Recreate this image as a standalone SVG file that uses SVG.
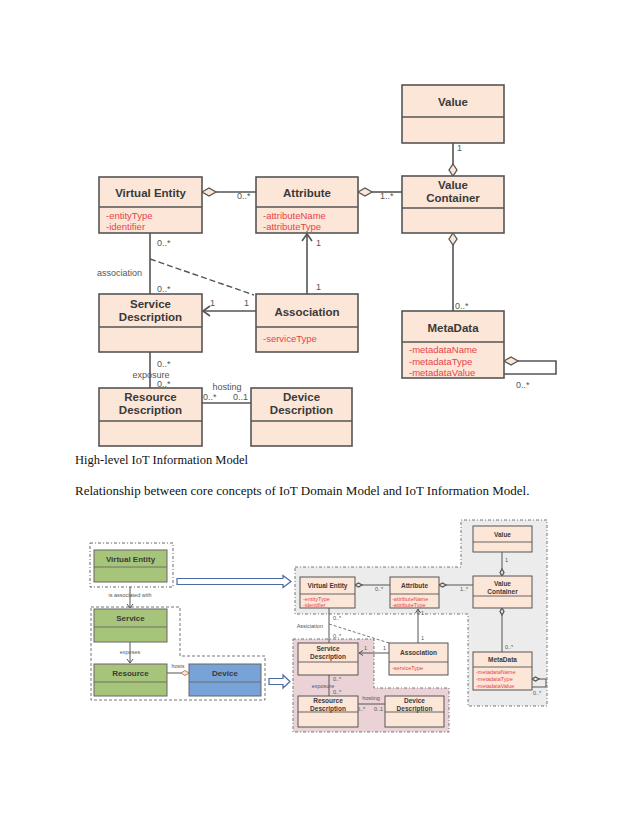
<svg xmlns="http://www.w3.org/2000/svg" width="638" height="826" viewBox="0 0 638 826">
<style>
.bx{fill:#fce6d8;stroke:#555;stroke-width:1.6}
.dv{stroke:#555;stroke-width:1.4}
.t{font-family:"Liberation Sans",Arial,sans-serif;font-weight:bold;fill:#3a3a3a;text-anchor:middle}
.t1{font-size:11.5px}
.a1{font-family:"Liberation Sans",Arial,sans-serif;font-size:9.5px;fill:#e8434b}
.l1{font-family:"Liberation Sans",Arial,sans-serif;font-size:9px;fill:#555}
.c{stroke:#555;stroke-width:1.6;fill:none}
.dm{fill:#fce6d8;stroke:#555;stroke-width:1.3}
.bx2{fill:#fce6d8;stroke:#555;stroke-width:1}
.dv2{stroke:#555;stroke-width:0.9}
.t2{font-size:6.5px}
.a2{font-family:"Liberation Sans",Arial,sans-serif;font-size:5.5px;fill:#e8434b}
.l2{font-family:"Liberation Sans",Arial,sans-serif;font-size:5.5px;fill:#555}
.c2{stroke:#555;stroke-width:1;fill:none}
.cap{font-family:"Liberation Serif","Times New Roman",serif;font-size:13px;fill:#111}
.g{fill:#a7c57a;stroke:#666;stroke-width:1}
.bl{fill:#78a3d8;stroke:#666;stroke-width:1}
.ha{fill:#fff;stroke:#4a6aa5;stroke-width:1.2}
</style>

<!-- ===== Top diagram ===== -->
<g id="connectors-top">
  <line class="c" x1="216" y1="192" x2="256" y2="192"/>
  <path class="dm" d="M202,192 L209,188 L216,192 L209,196 Z"/>
  <text class="l1" x="237" y="199">0..*</text>
  <line class="c" x1="372" y1="192" x2="402" y2="192"/>
  <path class="dm" d="M358,192 L365,188 L372,192 L365,196 Z"/>
  <text class="l1" x="380" y="199">1..*</text>
  <line class="c" x1="453" y1="143" x2="453" y2="164"/>
  <path class="dm" d="M453,164 L457,170 L453,176 L449,170 Z"/>
  <text class="l1" x="457" y="151">1</text>
  <path class="dm" d="M453,233 L457,239 L453,245 L449,239 Z"/>
  <line class="c" x1="453" y1="245" x2="453" y2="311"/>
  <text class="l1" x="455" y="309">0..*</text>
  <path class="dm" d="M504,361 L511,357 L518,361 L511,365 Z"/>
  <polyline class="c" points="518,361 556,361 556,374 504,374"/>
  <text class="l1" x="516" y="388">0..*</text>
  <line class="c" x1="150" y1="233" x2="150" y2="294"/>
  <text class="l1" x="157" y="246">0..*</text>
  <text class="l1" x="157" y="292">0..*</text>
  <text class="l1" x="97" y="276">association</text>
  <line x1="150" y1="259" x2="254" y2="295" stroke="#555" stroke-width="1.4" stroke-dasharray="6,3"/>
  <line class="c" x1="307" y1="294" x2="307" y2="234"/>
  <polyline class="c" points="302,241 307,234 312,241"/>
  <text class="l1" x="316" y="246">1</text>
  <text class="l1" x="316" y="290">1</text>
  <line class="c" x1="256" y1="311" x2="203" y2="311"/>
  <polyline class="c" points="210,306 203,311 210,316"/>
  <text class="l1" x="210" y="306">1</text>
  <text class="l1" x="244" y="306">1</text>
  <line class="c" x1="150" y1="352" x2="150" y2="388"/>
  <text class="l1" x="157" y="367">0..*</text>
  <text class="l1" x="151" y="378" text-anchor="middle">exposure</text>
  <text class="l1" x="157" y="387">0..*</text>
  <line class="c" x1="202" y1="403" x2="251" y2="403"/>
  <text class="l1" x="227" y="390" text-anchor="middle">hosting</text>
  <text class="l1" x="203" y="400">0..*</text>
  <text class="l1" x="233" y="400">0..1</text>
</g>

<g id="value">
  <rect class="bx" x="402" y="85" width="102" height="58"/>
  <line class="dv" x1="402" y1="117" x2="504" y2="117"/>
  <text class="t t1" x="453" y="106">Value</text>
</g>
<g id="virtual-entity">
  <rect class="bx" x="99" y="177" width="103" height="56"/>
  <line class="dv" x1="99" y1="207" x2="202" y2="207"/>
  <text class="t t1" x="150.5" y="197">Virtual Entity</text>
  <text class="a1" x="106" y="219">-entityType</text>
  <text class="a1" x="106" y="230">-identifier</text>
</g>
<g id="attribute">
  <rect class="bx" x="256" y="177" width="102" height="56"/>
  <line class="dv" x1="256" y1="207" x2="358" y2="207"/>
  <text class="t t1" x="307" y="197">Attribute</text>
  <text class="a1" x="263" y="219">-attributeName</text>
  <text class="a1" x="263" y="230">-attributeType</text>
</g>
<g id="value-container">
  <rect class="bx" x="402" y="176" width="102" height="57"/>
  <line class="dv" x1="402" y1="208" x2="504" y2="208"/>
  <text class="t t1" x="453" y="189">Value</text>
  <text class="t t1" x="453" y="202">Container</text>
</g>
<g id="service-description">
  <rect class="bx" x="99" y="294" width="103" height="58"/>
  <line class="dv" x1="99" y1="327" x2="202" y2="327"/>
  <text class="t t1" x="150.5" y="308">Service</text>
  <text class="t t1" x="150.5" y="321">Description</text>
</g>
<g id="association">
  <rect class="bx" x="256" y="294" width="102" height="58"/>
  <line class="dv" x1="256" y1="327" x2="358" y2="327"/>
  <text class="t t1" x="307" y="316">Association</text>
  <text class="a1" x="263" y="342">-serviceType</text>
</g>
<g id="metadata">
  <rect class="bx" x="402" y="311" width="102" height="67"/>
  <line class="dv" x1="402" y1="342" x2="504" y2="342"/>
  <text class="t t1" x="453" y="332">MetaData</text>
  <text class="a1" x="409" y="353">-metadataName</text>
  <text class="a1" x="409" y="365">-metadataType</text>
  <text class="a1" x="409" y="376">-metadataValue</text>
</g>
<g id="resource-description">
  <rect class="bx" x="99" y="388" width="103" height="58"/>
  <line class="dv" x1="99" y1="421" x2="202" y2="421"/>
  <text class="t t1" x="150.5" y="401">Resource</text>
  <text class="t t1" x="150.5" y="414">Description</text>
</g>
<g id="device-description">
  <rect class="bx" x="251" y="388" width="101" height="58"/>
  <line class="dv" x1="251" y1="421" x2="352" y2="421"/>
  <text class="t t1" x="301.5" y="401">Device</text>
  <text class="t t1" x="301.5" y="414">Description</text>
</g>

<text class="cap" x="75" y="464" textLength="173" lengthAdjust="spacingAndGlyphs">High-level IoT Information Model</text>
<text class="cap" x="75" y="495">Relationship between core concepts of IoT Domain Model and IoT Information Model.</text>

<!-- ===== Bottom diagram ===== -->
<g id="regions">
  <path d="M295,567 L461,567 L461,520 L547,520 L547,706 L468,706 L468,614 L295,614 Z" fill="#ececec" stroke="#777" stroke-width="1" stroke-dasharray="3,2,1,2"/>
  <path d="M293,639 L374,639 L374,688 L449,688 L449,732 L293,732 Z" fill="#ead2d6" stroke="#777" stroke-width="1" stroke-dasharray="3,2,1,2"/>
  <rect x="90" y="543" width="83" height="44" fill="none" stroke="#666" stroke-width="1" stroke-dasharray="3,2,1,2"/>
  <path d="M91,607 L180,607 L180,656 L265,656 L265,700 L91,700 Z" fill="none" stroke="#777" stroke-width="1" stroke-dasharray="3,2"/>
</g>

<g id="connectors-bottom">
  <line class="c2" x1="130" y1="587" x2="130" y2="608"/>
  <polyline class="c2" points="127,604 130,608 133,604"/>
  <text class="l2" x="130" y="597" text-anchor="middle">is associated with</text>
  <line class="c2" x1="130" y1="642" x2="130" y2="663"/>
  <polyline class="c2" points="127,659 130,663 133,659"/>
  <text class="l2" x="130" y="654" text-anchor="middle">exposes</text>
  <line class="c2" x1="167" y1="673" x2="181" y2="673"/>
  <path d="M181,673 L185,670.5 L189,673 L185,675.5 Z" fill="#fce6d8" stroke="#c07040" stroke-width="0.9"/>
  <text class="l2" x="178" y="668" text-anchor="middle">hosts</text>
  <path class="ha" d="M177,578.5 L283,578.5 L283,575.5 L291,581.5 L283,587.5 L283,584.5 L177,584.5 Z"/>
  <path class="ha" d="M269,678.5 L283,678.5 L283,675 L290,681.5 L283,688 L283,684.5 L269,684.5 Z"/>
  <line class="c2" x1="362" y1="585" x2="390" y2="585"/>
  <path class="dm" d="M355,585 L358.5,583 L362,585 L358.5,587 Z" stroke-width="0.9"/>
  <text class="l2" x="375" y="591">0..*</text>
  <line class="c2" x1="446" y1="585" x2="473" y2="585"/>
  <path class="dm" d="M439,585 L442.5,583 L446,585 L442.5,587 Z" stroke-width="0.9"/>
  <text class="l2" x="460" y="591">1..*</text>
  <line class="c2" x1="502" y1="552" x2="502" y2="569"/>
  <path class="dm" d="M502,569 L504,572.5 L502,576 L500,572.5 Z" stroke-width="0.9"/>
  <text class="l2" x="505" y="562">1</text>
  <path class="dm" d="M502,608 L504,611.5 L502,615 L500,611.5 Z" stroke-width="0.9"/>
  <line class="c2" x1="502" y1="615" x2="502" y2="652"/>
  <text class="l2" x="505" y="649">0..*</text>
  <path class="dm" d="M532,679 L535.5,677 L539,679 L535.5,681 Z" stroke-width="0.9"/>
  <polyline class="c2" points="539,679 546,679 546,687 532,687"/>
  <text class="l2" x="533" y="695">0..*</text>
  <line class="c2" x1="329" y1="608" x2="329" y2="643"/>
  <text class="l2" x="333" y="620">0..*</text>
  <text class="l2" x="323" y="628" text-anchor="end">Assiciation</text>
  <text class="l2" x="333" y="638">0..*</text>
  <line x1="329" y1="624" x2="389" y2="643" stroke="#666" stroke-width="0.9" stroke-dasharray="3,2"/>
  <line class="c2" x1="418" y1="643" x2="418" y2="609"/>
  <polyline class="c2" points="415.5,613 418,609 420.5,613"/>
  <text class="l2" x="421" y="615">1</text>
  <text class="l2" x="421" y="640">1</text>
  <line class="c2" x1="389" y1="653" x2="359" y2="653"/>
  <polyline class="c2" points="363,650.5 359,653 363,655.5"/>
  <text class="l2" x="364" y="650">1</text>
  <text class="l2" x="383" y="650">1</text>
  <line class="c2" x1="329" y1="675" x2="329" y2="696"/>
  <text class="l2" x="333" y="681">0..*</text>
  <text class="l2" x="323" y="688" text-anchor="middle">exposure</text>
  <text class="l2" x="333" y="694">0..*</text>
  <line class="c2" x1="358" y1="704" x2="385" y2="704"/>
  <text class="l2" x="371" y="700" text-anchor="middle">hosting</text>
  <text class="l2" x="357" y="711">0..*</text>
  <text class="l2" x="374" y="711">0..1</text>
</g>

<g id="b-virtual-entity-green">
  <rect class="g" x="94" y="550" width="73" height="32"/>
  <line stroke="#666" stroke-width="0.9" x1="94" y1="567" x2="167" y2="567"/>
  <text class="t" x="130.5" y="562" font-size="8">Virtual Entity</text>
</g>
<g id="b-service-green">
  <rect class="g" x="94" y="609" width="73" height="33"/>
  <line stroke="#666" stroke-width="0.9" x1="94" y1="627" x2="167" y2="627"/>
  <text class="t" x="130.5" y="621" font-size="8">Service</text>
</g>
<g id="b-resource-green">
  <rect class="g" x="94" y="664" width="73" height="32"/>
  <line stroke="#666" stroke-width="0.9" x1="94" y1="682" x2="167" y2="682"/>
  <text class="t" x="130.5" y="676" font-size="8">Resource</text>
</g>
<g id="b-device-blue">
  <rect class="bl" x="189" y="664" width="72" height="32"/>
  <line stroke="#666" stroke-width="0.9" x1="189" y1="682" x2="261" y2="682"/>
  <text class="t" x="225" y="676" font-size="8">Device</text>
</g>

<g id="b-value">
  <rect class="bx2" x="473" y="526" width="59" height="26"/>
  <line class="dv2" x1="473" y1="542" x2="532" y2="542"/>
  <text class="t t2" x="502.5" y="537">Value</text>
</g>
<g id="b-virtual-entity">
  <rect class="bx2" x="300" y="577" width="55" height="31"/>
  <line class="dv2" x1="300" y1="594" x2="355" y2="594"/>
  <text class="t t2" x="327.5" y="588">Virtual Entity</text>
  <text class="a2" x="303" y="600.5">-entityType</text>
  <text class="a2" x="303" y="606.5">-identifier</text>
</g>
<g id="b-attribute">
  <rect class="bx2" x="390" y="577" width="49" height="31"/>
  <line class="dv2" x1="390" y1="594" x2="439" y2="594"/>
  <text class="t t2" x="414.5" y="588">Attribute</text>
  <text class="a2" x="392" y="600.5">-attributeName</text>
  <text class="a2" x="392" y="606.5">-attributeType</text>
</g>
<g id="b-value-container">
  <rect class="bx2" x="473" y="576" width="59" height="32"/>
  <line class="dv2" x1="473" y1="596" x2="532" y2="596"/>
  <text class="t t2" x="502.5" y="586">Value</text>
  <text class="t t2" x="502.5" y="594">Container</text>
</g>
<g id="b-metadata">
  <rect class="bx2" x="473" y="652" width="59" height="38"/>
  <line class="dv2" x1="473" y1="667" x2="532" y2="667"/>
  <text class="t t2" x="502.5" y="662">MetaData</text>
  <text class="a2" x="476" y="673.5">-metadataName</text>
  <text class="a2" x="476" y="680.5">-metadataType</text>
  <text class="a2" x="476" y="687.5">-metadataValue</text>
</g>
<g id="b-service-description">
  <rect class="bx2" x="298" y="643" width="60" height="32"/>
  <line class="dv2" x1="298" y1="662" x2="358" y2="662"/>
  <text class="t t2" x="328" y="651">Service</text>
  <text class="t t2" x="328" y="659">Description</text>
</g>
<g id="b-association">
  <rect class="bx2" x="389" y="643" width="59" height="32"/>
  <line class="dv2" x1="389" y1="662" x2="448" y2="662"/>
  <text class="t t2" x="418.5" y="655">Association</text>
  <text class="a2" x="392" y="670">-serviceType</text>
</g>
<g id="b-resource-description">
  <rect class="bx2" x="298" y="696" width="60" height="31"/>
  <line class="dv2" x1="298" y1="712" x2="358" y2="712"/>
  <text class="t t2" x="328" y="703">Resource</text>
  <text class="t t2" x="328" y="711">Description</text>
</g>
<g id="b-device-description">
  <rect class="bx2" x="385" y="696" width="59" height="31"/>
  <line class="dv2" x1="385" y1="712" x2="444" y2="712"/>
  <text class="t t2" x="414.5" y="703">Device</text>
  <text class="t t2" x="414.5" y="711">Description</text>
</g>
</svg>
